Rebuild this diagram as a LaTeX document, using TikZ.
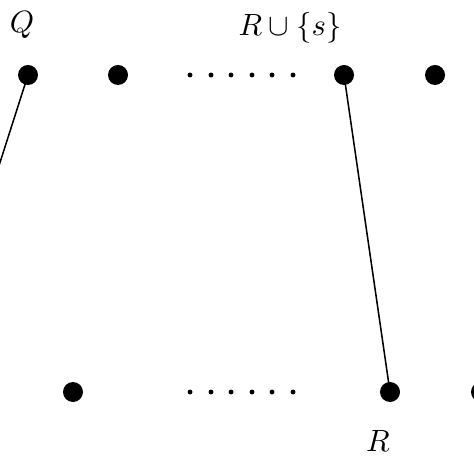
\documentclass[tikz,border=0pt]{standalone}
\begin{document}
\begin{tikzpicture}[x=0.325pt,y=-0.325pt,
  big/.style={circle,fill=black,inner sep=0pt,minimum size=6.5pt},
  small/.style={circle,fill=black,inner sep=0pt,minimum size=1.6pt},
  edge/.style={line width=0.5pt}]
\useasboundingbox (0,0) rectangle (474,474);
\clip (0,0) rectangle (474,474);
% top row
\node[big] (q) at (28,75) {};
\node[big] (t2) at (118,75) {};
\foreach \i/\x in {1/190,2/211,3/231,4/252,5/272,6/293} \node[small] (td\i) at (\x,75) {};
\node[big] (rs) at (344,75) {};
\node[big] (t5) at (435,75) {};
% bottom row
\node[big] (b1) at (73,392) {};
\foreach \i/\x in {1/190,2/211,3/231,4/252,5/272,6/293} \node[small] (bd\i) at (\x,392) {};
\node[big] (r) at (390,392) {};
\node[big] (b4) at (481,392) {};
% labels
\node (lq) at (22,25) {$Q$};
\node (lrs) at (290,28) {$R\cup\{s\}$};
\node (lr) at (378,441) {$R$};
% connectors
\coordinate (qend) at (-12,200);
\draw[edge] (q.center) -- (qend);
\draw[edge] (rs.center) -- (r.center);
\end{tikzpicture}
\end{document}
